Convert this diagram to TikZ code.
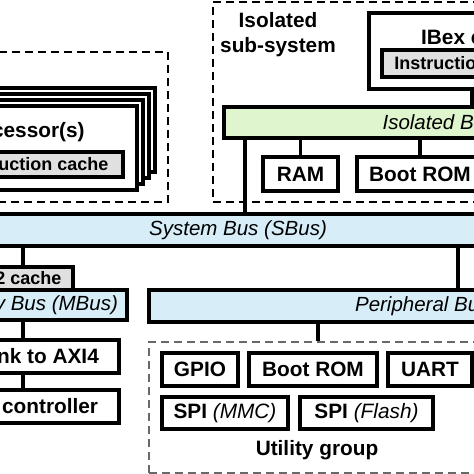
\documentclass[tikz,border=0pt]{standalone}
\usepackage{fontspec}
\setmainfont{Liberation Sans}
\usetikzlibrary{calc}
\definecolor{busblue}{RGB}{215,238,249}
\definecolor{isogreen}{RGB}{222,245,205}
\definecolor{subgray}{RGB}{224,224,224}
\definecolor{grpgray}{RGB}{105,105,105}
\tikzset{
  blk/.style={draw, line width=3.1pt, inner sep=0pt, font=\bfseries\fontsize{20.8pt}{25pt}\selectfont},
  subblk/.style={blk, fill=subgray, font=\bfseries\fontsize{18pt}{20pt}\selectfont},
  bus/.style={draw, line width=3.1pt, inner sep=0pt, fill=busblue, font=\itshape\fontsize{20.5pt}{22pt}\selectfont},
  grp/.style={draw, line width=2pt, dash pattern=on 8pt off 5pt, inner sep=0pt},
  lbl/.style={inner sep=0pt, font=\bfseries\fontsize{20.8pt}{25pt}\selectfont},
  wire/.style={line width=3.1pt},
}

\begin{document}
\begin{tikzpicture}[x=1pt, y=-1pt]
		%%%%% START %%%%%
		\useasboundingbox (0,0) rectangle (474,474);
		\clip (0,0) rectangle (474,474);
		
		% processors
		\node[grp, minimum width=300pt, minimum height=150pt] (procgrp) at (18,127) {};
		\foreach \i in {3,2,1}
			\node[blk, fill=white, minimum width=232pt, minimum height=84pt] (proc\i) at (21+6*\i, 148-6*\i) {};
		\node[blk, fill=white, minimum width=232pt, minimum height=84pt] (proc) at (21,148) {};
		\node[lbl] (proctxt) at (21,132) {Processor(s)};
		\node[subblk, minimum width=178pt, minimum height=25pt] (icache) at (34,164.5) {Instruction cache};
		
		% isolated sub-system
		\node[grp, minimum width=437pt, minimum height=200pt] (isogrp) at (431.5,102) {};
		\node[lbl, align=center] (isotxt) at (278,35) {Isolated\\sub-system};
		\node[blk, fill=white, minimum width=196pt, minimum height=76pt] (ibex) at (467,51) {};
		\node[lbl] (ibextxt) at (468,37) {IBex core};
		\node[subblk, minimum width=174pt, minimum height=27pt] (ibexic) at (469,63.5) {Instruction cache};
		\node[bus, fill=isogreen, minimum width=430pt, minimum height=31pt] (isobus) at (439,122.5) {Isolated Bus};
		\node[blk, minimum width=75pt, minimum height=34pt] (ram) at (300.5,174) {RAM};
		\node[blk, minimum width=126pt, minimum height=34pt] (bootiso) at (420,174) {Boot ROM};
		
		% system bus
		\node[bus, minimum width=620pt, minimum height=32pt] (sbus) at (238,230) {System Bus (SBus)};
		
		% memory side
		\node[subblk, minimum width=100pt, minimum height=23pt] (l2) at (23,278.5) {L2 cache};
		\node[bus, minimum width=205pt, minimum height=30pt] (mbus) at (24.5,305) {Memory Bus (MBus)};
		\node[blk, minimum width=196pt, minimum height=33pt] (tl) at (21,356.5) {TileLink to AXI4};
		\node[blk, minimum width=206pt, minimum height=33pt] (mc) at (16,406.5) {DRAM controller};
		
		% peripherals
		\node[bus, minimum width=615pt, minimum height=32pt] (pbus) at (456.5,306) {Peripheral Bus (PBus)};
		\node[grp, draw=grpgray, minimum width=601pt, minimum height=131pt] (util) at (449.5,407.5) {};
		\node[blk, minimum width=76pt, minimum height=33pt] (gpio) at (200,369.5) {GPIO};
		\node[blk, minimum width=128pt, minimum height=33pt] (bootrom) at (313,369.5) {Boot ROM};
		\node[blk, minimum width=84pt, minimum height=33pt] (uart) at (430,369.5) {UART};
		\node[blk, minimum width=126pt, minimum height=32pt] (spimmc) at (225,413) {SPI \mdseries\itshape(MMC)};
		\node[blk, minimum width=133pt, minimum height=32pt] (spiflash) at (366.5,413) {SPI \mdseries\itshape(Flash)};
		\node[lbl] (utiltxt) at (317,450) {Utility group};
		
		% connectors
		\coordinate (ibexport) at (472,0);
		\coordinate (isoport) at (245,0);
		\coordinate (memport) at (23,0);
		\coordinate (perport) at (458,0);
		\coordinate (utilport) at (318,0);
		\draw[wire] (ibexport |- ibex.south) -- (ibexport |- isobus.north);
		\draw[wire] (ram.north) -- (ram.north |- isobus.south);
		\draw[wire] (bootiso.north) -- (bootiso.north |- isobus.south);
		\draw[wire] (isoport |- isobus.south) -- (isoport |- sbus.north);
		\draw[wire] (memport |- sbus.south) -- (memport |- l2.north);
		\draw[wire] (memport |- mbus.south) -- (memport |- tl.north);
		\draw[wire] (memport |- tl.south) -- (memport |- mc.north);
		\draw[wire] (perport |- sbus.south) -- (perport |- pbus.north);
		\draw[wire] (utilport |- pbus.south) -- (utilport |- util.north);
		
		%%%%% END %%%%%
\end{tikzpicture}
\end{document}
